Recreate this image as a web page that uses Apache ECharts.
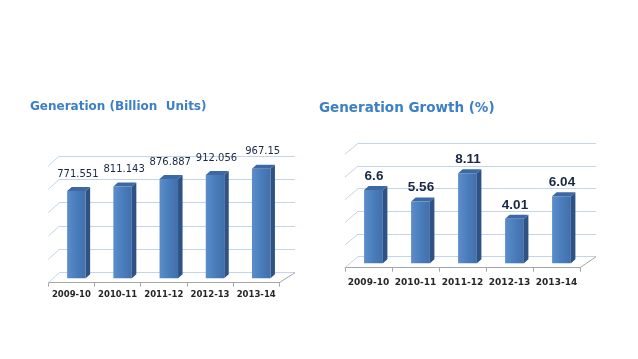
<!DOCTYPE html>
<html>
<head>
<meta charset="utf-8">
<script src="https://cdn.jsdelivr.net/npm/echarts@6/dist/echarts.min.js"></script>
<style>
html,body{margin:0;padding:0;background:#ffffff;}
#chart{width:638px;height:359px;}
</style>
</head>
<body>
<div id="chart"></div>
<script>
// ---- data ----
const categories = ['2009-10', '2010-11', '2011-12', '2012-13', '2013-14'];
const generation = [771.551, 811.143, 876.887, 912.056, 967.15];
const growth = [6.6, 5.56, 8.11, 4.01, 6.04];
const generationTicks = [0, 200, 400, 600, 800, 1000];
const growthTicks = [0, 2, 4, 6, 8, 10];
const titleLeft = 'Generation (Billion  Units)';
const titleRight = 'Generation Growth (%)';

const chart = echarts.init(document.getElementById('chart'), null, {renderer: 'canvas'});

const frontFill = new echarts.graphic.LinearGradient(0, 0, 1, 0, [
  {offset: 0, color: '#5a8dca'},
  {offset: 0.5, color: '#4a7dbb'},
  {offset: 1, color: '#426fab'}
]);

function barRender(labels, o) {
  return function (params, api) {
    const i = api.value(0), v = api.value(1);
    const base = api.coord([i, 0]);
    const top = api.coord([i, v]);
    const bw = api.size([1, 0])[0] * 0.4;
    const cx = base[0] + o.sx;
    const by = base[1] + o.sy;
    const ty = top[1] + o.sy;
    const xl = cx - bw / 2, xr = cx + bw / 2;
    const d = o.d, e = o.e;
    return {
      type: 'group',
      children: [
        {type: 'polygon', shape: {points: [[xr, ty], [xr + d, ty - e], [xr + d, by - e], [xr, by]]},
          style: {fill: '#2d5283'}},
        {type: 'polygon', shape: {points: [[xl, ty], [xl + d, ty - e], [xr + d, ty - e], [xr, ty]]},
          style: {fill: '#3c69a4'}},
        {type: 'rect', shape: {x: xl, y: ty, width: bw, height: by - ty}, style: {fill: frontFill}},
        {type: 'text', x: cx + o.lx, y: ty - o.ly,
          style: {text: String(labels[i]), fill: '#1a2744', fontFamily: o.font, fontSize: o.fs,
            fontWeight: o.fw, textAlign: 'center', textVerticalAlign: 'middle', verticalAlign: 'middle'}}
      ]
    };
  };
}

function wallRender(o) {
  return function (params, api) {
    const v = api.value(1);
    const cs = params.coordSys;
    const y = api.coord([0, v])[1];
    const children = [
      {type: 'line', shape: {x1: cs.x, y1: y, x2: cs.x + o.lx, y2: y + o.ly},
        style: {stroke: '#c3d5ec', lineWidth: 1}}
    ];
    if (v === 0) {
      children.push({type: 'line', shape: {x1: cs.x + cs.width, y1: y, x2: cs.x + cs.width + o.rx, y2: y + o.ry},
        style: {stroke: '#a6a6a6', lineWidth: 1}});
    }
    return {type: 'group', children: children};
  };
}

function catAxis(gi, fs, margin) {
  return {
    type: 'category', gridIndex: gi, data: categories,
    axisLine: {show: true, lineStyle: {color: '#a6a6a6', width: 1}},
    axisTick: {show: true, length: 4, lineStyle: {color: '#a6a6a6'}},
    axisLabel: {interval: 0, fontFamily: 'DejaVu Sans', fontWeight: 'bold', fontSize: fs, color: '#262626', margin: margin},
    splitLine: {show: false}
  };
}
function hiddenCat(gi) {
  return {type: 'category', gridIndex: gi, data: categories, show: false};
}
function hiddenVal(gi, max) {
  return {type: 'value', gridIndex: gi, min: 0, max: max, show: false, splitLine: {show: false}};
}
function wallVal(gi, max) {
  return {
    type: 'value', gridIndex: gi, min: 0, max: max, interval: max / 5,
    axisLine: {show: false}, axisTick: {show: false}, axisLabel: {show: false},
    splitLine: {show: true, lineStyle: {color: '#c3d5ec', width: 1}}
  };
}

const option = {
  backgroundColor: '#ffffff',
  animation: false,
  title: [
    {text: titleLeft, left: 30, top: 100, padding: 0,
      textStyle: {fontFamily: 'DejaVu Sans', fontWeight: 'bold', fontSize: 12, lineHeight: 14, color: '#3c7fc6'}},
    {text: titleRight, left: 319, top: 100, padding: 0,
      textStyle: {fontFamily: 'DejaVu Sans', fontWeight: 'bold', fontSize: 13.5, lineHeight: 16, color: '#3c7fc6'}}
  ],
  grid: [
    {left: 48.3, top: 169.5, width: 231, height: 113.2, outerBoundsMode: 'none'},
    {left: 59.3, top: 156, width: 235.7, height: 116.7, outerBoundsMode: 'none'},
    {left: 345, top: 156.7, width: 235, height: 111, outerBoundsMode: 'none'},
    {left: 358, top: 143.3, width: 238, height: 113.4, outerBoundsMode: 'none'}
  ],
  xAxis: [catAxis(0, 8.5, 8), hiddenCat(1), catAxis(2, 9, 10), hiddenCat(3)],
  yAxis: [hiddenVal(0, 1000), wallVal(1, 1000), hiddenVal(2, 10), wallVal(3, 10)],
  series: [
    {type: 'custom', xAxisIndex: 1, yAxisIndex: 1, z: 1, silent: true,
      data: generationTicks.map(v => [0, v]), encode: {x: 0, y: 1},
      renderItem: wallRender({lx: -11, ly: 10, rx: -15.7, ry: 10})},
    {type: 'custom', xAxisIndex: 0, yAxisIndex: 0, z: 3,
      data: generation.map((v, i) => [i, v]), encode: {x: 0, y: 1},
      renderItem: barRender(generation, {sx: 5, sy: -4.4, d: 4.5, e: 4, lx: 1.5, ly: 17,
        font: 'DejaVu Sans', fs: 10, fw: 'normal'})},
    {type: 'custom', xAxisIndex: 3, yAxisIndex: 3, z: 1, silent: true,
      data: growthTicks.map(v => [0, v]), encode: {x: 0, y: 1},
      renderItem: wallRender({lx: -13, ly: 11, rx: -16, ry: 11})},
    {type: 'custom', xAxisIndex: 2, yAxisIndex: 2, z: 3,
      data: growth.map((v, i) => [i, v]), encode: {x: 0, y: 1},
      renderItem: barRender(growth, {sx: 5, sy: -4.4, d: 4.5, e: 4, lx: 0.5, ly: 14,
        font: 'Liberation Sans', fs: 13.5, fw: 'bold'})}
  ]
};
chart.setOption(option);
</script>
</body>
</html>
